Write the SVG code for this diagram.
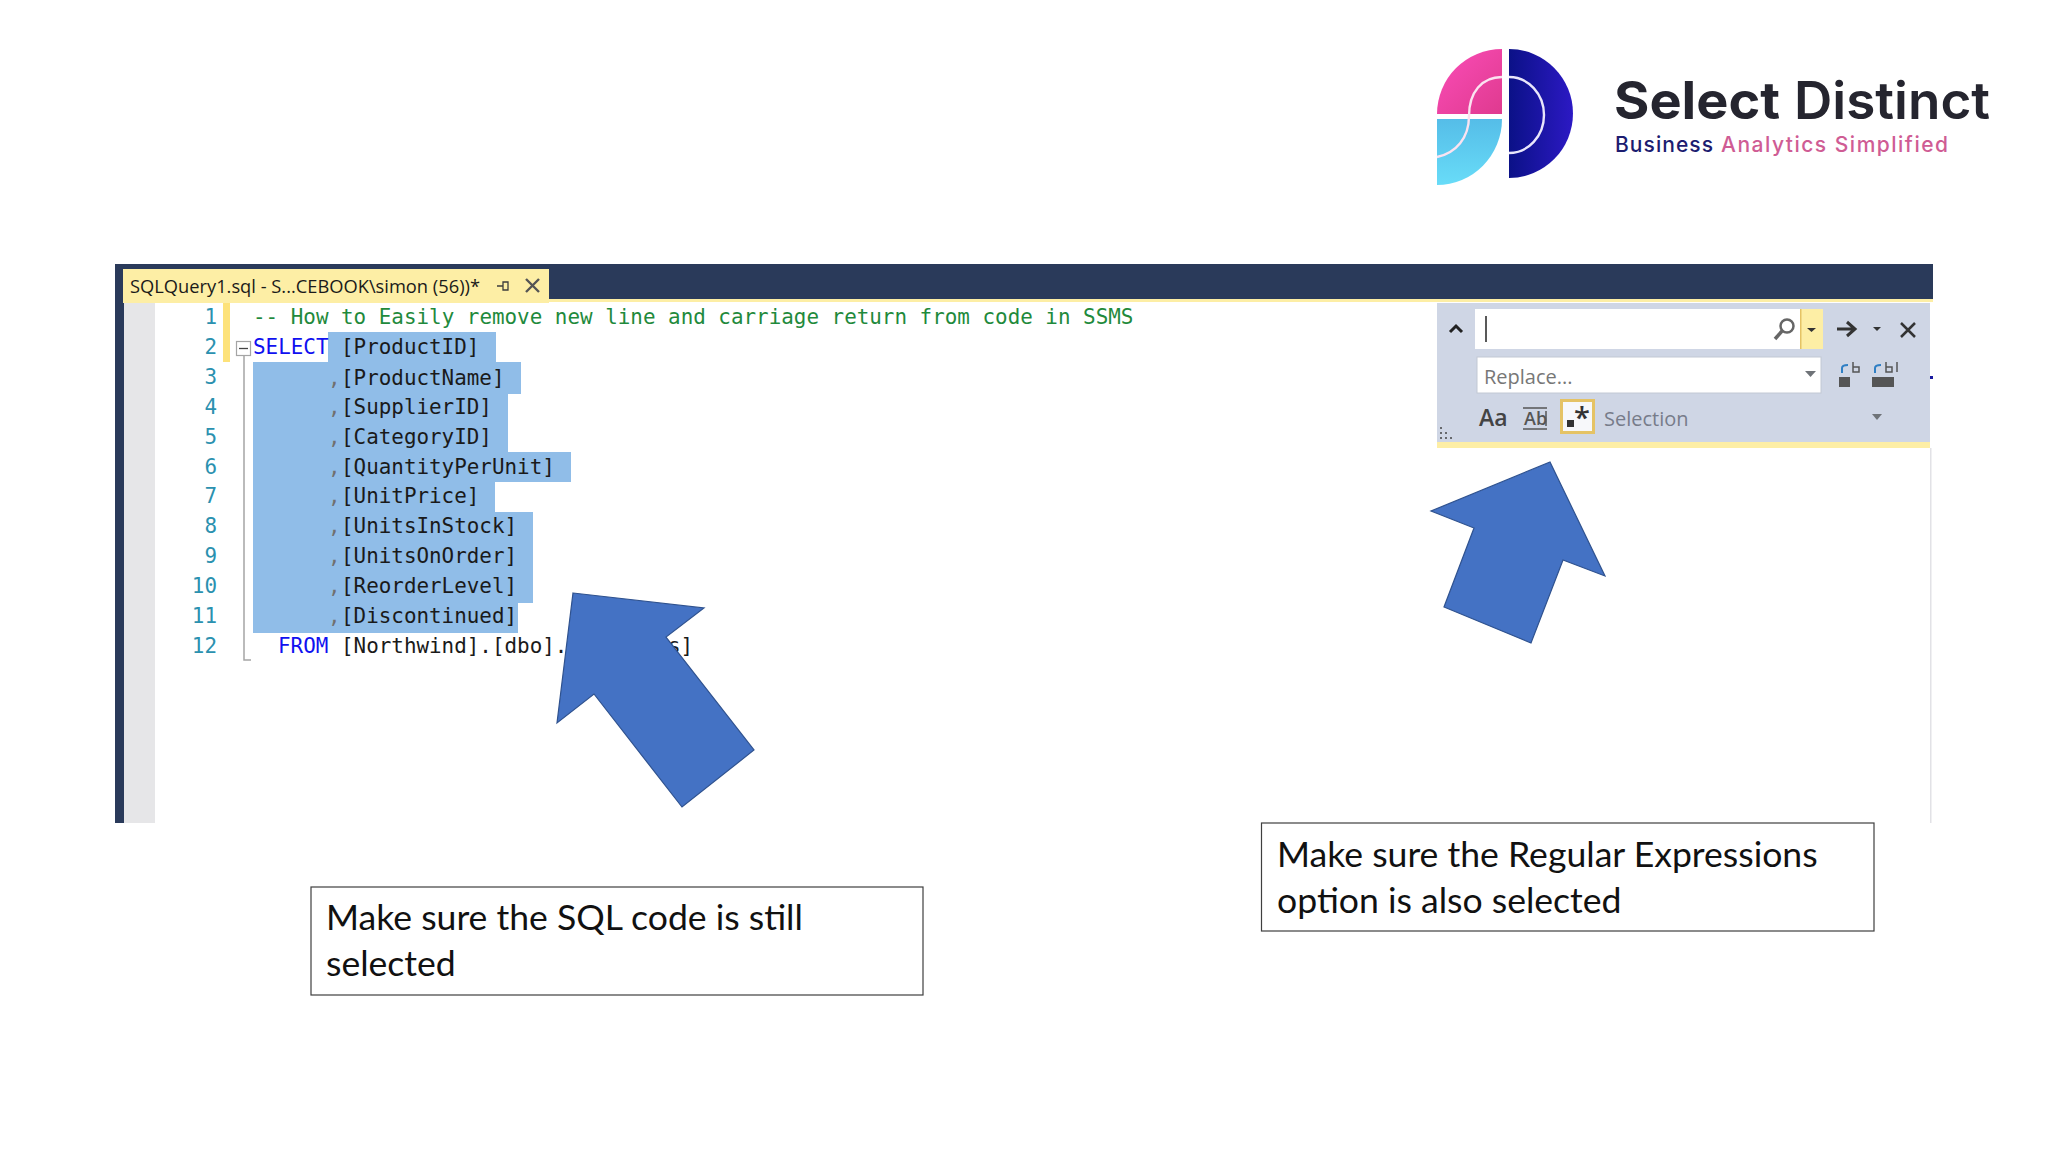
<svg xmlns="http://www.w3.org/2000/svg" width="2048" height="1152" viewBox="0 0 2048 1152">
<defs>
<linearGradient id="gp" x1="0" y1="0" x2="1" y2="1"><stop offset="0" stop-color="#fb4db8"/><stop offset="1" stop-color="#df3a8f"/></linearGradient>
<linearGradient id="gb" x1="0" y1="0" x2="0" y2="1"><stop offset="0" stop-color="#55bde8"/><stop offset="1" stop-color="#68dcf8"/></linearGradient>
<linearGradient id="gd" x1="0" y1="0" x2="1" y2="0"><stop offset="0" stop-color="#0b1187"/><stop offset="1" stop-color="#2c19c4"/></linearGradient>
</defs>
<style>
.code{font-family:"DejaVu Sans Mono","Liberation Mono",monospace;font-size:20.9px;fill:#1a1a1a}
.ln{font-family:"DejaVu Sans Mono","Liberation Mono",monospace;font-size:20.9px;fill:#2b91af;text-anchor:end}
.cm{fill:#1f8a3c}.kw{fill:#1010f0}.gr{fill:#707070}
.sel{fill:#90bde8}
.arrow{fill:#4472c4;stroke:#2f528f;stroke-width:1.2}
.box{fill:#fff;stroke:#3f3f3f;stroke-width:1.2}
.note{font-family:Lato,"Open Sans",sans-serif;font-size:35.6px;fill:#111}
.ui{font-family:"Open Sans","Liberation Sans",sans-serif}
.tri{fill:#6f7378}
</style>
<rect width="2048" height="1152" fill="#fff"/>

<g id="logo">
<path d="M1437 114 A65 65 0 0 1 1502 49 V114 Z" fill="url(#gp)"/>
<path d="M1437 119 H1502 A65 66 0 0 1 1437 185 Z" fill="url(#gb)"/>
<path d="M1509 49 A64 64.500 0 0 1 1509 178 Z" fill="url(#gd)"/>
<path d="M1509 77 A35 38 0 0 1 1509 153" fill="none" stroke="#e9e6fb" stroke-width="2.400"/>
<path d="M1502 77 C1482 77 1469 92 1469 116 C1469 138 1456 153 1437 157" fill="none" stroke="#fbe3f1" stroke-width="2.400"/>
<text x="1614" y="119" font-family="Inter,sans-serif" font-size="52" font-weight="700" fill="#25252f" textLength="166" lengthAdjust="spacingAndGlyphs">Select</text>
<text x="1794" y="119" font-family="Inter,sans-serif" font-size="52" font-weight="600" fill="#25252f" textLength="196" lengthAdjust="spacingAndGlyphs">Distinct</text>
<text x="1615" y="152" font-family="Inter,sans-serif" font-size="21" font-weight="500" fill="#1c1c70" textLength="98">Business</text>
<text x="1721" y="152" font-family="Inter,sans-serif" font-size="21" font-weight="500" fill="#cf5c94" textLength="227">Analytics Simplified</text>
</g>

<g id="ssms-window">
<rect x="115" y="264" width="1818" height="36" fill="#2a3a5a"/>
<rect x="115" y="299" width="1818" height="3" fill="#fdeea5"/>
<rect x="115" y="264" width="9" height="559" fill="#2a3a5a"/>
<rect x="124" y="302" width="31" height="521" fill="#e6e6e8"/>
<rect x="1930" y="448" width="1.500" height="375" fill="#e2e2e6"/>
</g>

<g id="tab">
<rect x="123" y="269" width="426" height="34" fill="#fdeea5"/>
<text class="ui" x="130" y="293" font-size="19" fill="#1a1a1a" textLength="350" lengthAdjust="spacingAndGlyphs">SQLQuery1.sql - S...CEBOOK\simon (56))*</text>
<path d="M497 286 H503 M503 282 V290 H508 V282 Z" fill="none" stroke="#3d3d3d" stroke-width="1.300"/>
<path d="M526 279 L539 292 M539 279 L526 292" stroke="#555" stroke-width="2.400"/>
</g>

<g id="code-editor">
<rect x="223" y="303" width="7" height="59" fill="#fde27a"/>
<g id="selection">
<rect class="sel" x="328" y="332" width="168" height="30"/>
<rect class="sel" x="253" y="362" width="268" height="32"/>
<rect class="sel" x="253" y="394" width="255" height="58"/>
<rect class="sel" x="253" y="452" width="318" height="30"/>
<rect class="sel" x="253" y="482" width="242" height="30"/>
<rect class="sel" x="253" y="512" width="280" height="91"/>
<rect class="sel" x="253" y="603" width="265" height="30"/>
</g>
<path d="M244 355 V660 H251" fill="none" stroke="#a5a5a5" stroke-width="1.500"/>
<rect x="236.500" y="341.500" width="14" height="14" fill="#fff" stroke="#a5a5a5" stroke-width="1.200"/>
<path d="M239 348.500 H248" stroke="#444" stroke-width="1.300"/>
<text class="ln" x="217" y="324">1</text>
<text class="ln" x="217" y="354">2</text>
<text class="ln" x="217" y="384">3</text>
<text class="ln" x="217" y="414">4</text>
<text class="ln" x="217" y="444">5</text>
<text class="ln" x="217" y="474">6</text>
<text class="ln" x="217" y="503">7</text>
<text class="ln" x="217" y="533">8</text>
<text class="ln" x="217" y="563">9</text>
<text class="ln" x="217" y="593">10</text>
<text class="ln" x="217" y="623">11</text>
<text class="ln" x="217" y="653">12</text>
<text class="code cm" x="253" y="324">-- How to Easily remove new line and carriage return from code in SSMS</text>
<text class="code kw" x="253" y="354">SELECT</text>
<text class="code" x="341" y="354">[ProductID]</text>
<text class="code gr" x="328" y="385">,</text><text class="code" x="341" y="385">[ProductName]</text>
<text class="code gr" x="328" y="414">,</text><text class="code" x="341" y="414">[SupplierID]</text>
<text class="code gr" x="328" y="444">,</text><text class="code" x="341" y="444">[CategoryID]</text>
<text class="code gr" x="328" y="474">,</text><text class="code" x="341" y="474">[QuantityPerUnit]</text>
<text class="code gr" x="328" y="503">,</text><text class="code" x="341" y="503">[UnitPrice]</text>
<text class="code gr" x="328" y="533">,</text><text class="code" x="341" y="533">[UnitsInStock]</text>
<text class="code gr" x="328" y="563">,</text><text class="code" x="341" y="563">[UnitsOnOrder]</text>
<text class="code gr" x="328" y="593">,</text><text class="code" x="341" y="593">[ReorderLevel]</text>
<text class="code gr" x="328" y="623">,</text><text class="code" x="341" y="623">[Discontinued]</text>
<text class="code kw" x="278" y="653">FROM</text>
<text class="code" x="341" y="653">[Northwind].[dbo].</text>
<text class="code" x="668" y="653">s]</text>
</g>

<g id="find-replace-panel">
<rect x="1437" y="303" width="493" height="139" fill="#cfd6e5"/>
<rect x="1437" y="442" width="493" height="6" fill="#fdeea5"/>
<rect x="1475" y="309" width="325" height="40" fill="#fff"/>
<rect x="1800" y="309" width="23" height="40" fill="#fdeea5"/>
<rect x="1800" y="309" width="1.500" height="40" fill="#e5c365"/>
<path d="M1450 332 L1456 326 L1462 332" fill="none" stroke="#222" stroke-width="3"/>
<path d="M1486 316 V342" stroke="#222" stroke-width="1.500"/>
<circle cx="1787" cy="326" r="6.500" fill="none" stroke="#666" stroke-width="2.500"/>
<path d="M1782 331 L1775 339" stroke="#666" stroke-width="3.500"/>
<path d="M1807 328 H1816 L1811.500 332 Z" fill="#333"/>
<path d="M1837 329 H1854 M1847 322 L1855 329 L1847 336" fill="none" stroke="#333" stroke-width="3"/>
<path d="M1873 327 H1881 L1877 331 Z" fill="#333"/>
<path d="M1901 323 L1915 337 M1915 323 L1901 337" stroke="#333" stroke-width="2.500"/>
<rect x="1477" y="357" width="344" height="36" fill="#fff" stroke="#c2c8d4"/>
<text class="ui" x="1484" y="384" font-size="20" fill="#777">Replace...</text>
<path class="tri" d="M1805 371 H1816 L1810.500 377 Z"/>
<path d="M1842 373 V368 Q1842 365 1848 365" fill="none" stroke="#2f7fc4" stroke-width="2"/>
<rect x="1839" y="377" width="11" height="10" fill="#555"/>
<path d="M1853 362 V372 H1859 V367 H1853" fill="none" stroke="#555" stroke-width="1.500"/>
<path d="M1875 373 V368 Q1875 365 1881 365" fill="none" stroke="#2f7fc4" stroke-width="2"/>
<rect x="1872" y="377" width="22" height="10" fill="#555"/>
<path d="M1886 362 V372 H1892 V367 H1886 M1897 362 V372" fill="none" stroke="#555" stroke-width="1.500"/>
<text class="ui" x="1479" y="426" font-size="23" font-weight="600" fill="#444">Aa</text>
<path d="M1523 408 H1547 M1523 429 H1547" stroke="#555" stroke-width="1.500"/>
<text class="ui" x="1524" y="425" font-size="18" font-weight="600" fill="#555">Ab</text>
<path d="M1546 411 V426" stroke="#555" stroke-width="1.500"/>
<rect x="1561.500" y="400.500" width="32" height="32" fill="#f7f8fa" stroke="#e5c365" stroke-width="3"/>
<rect x="1567" y="420" width="7" height="7" fill="#333"/>
<text class="ui" x="1574" y="428" font-size="29" font-weight="600" fill="#333">*</text>
<text class="ui" x="1604" y="426" font-size="20" fill="#777c8a">Selection</text>
<path class="tri" d="M1872 414 H1882 L1877 420 Z"/>
<path d="M1441 427 v2 M1441 432 v2 M1441 437 v2 M1446 432 v2 M1446 437 v2 M1451 437 v2" stroke="#444" stroke-width="1.500"/>
<rect x="1930" y="376" width="3" height="3" fill="#1a1aa0"/>
</g>

<g id="connectors">
<polygon class="arrow" points="573,593 704,608 666,637 754,750 682,807 594,694 557,723"/>
<polygon class="arrow" points="1550,462 1605,576 1563,560 1531,643 1444,607 1474,528 1431,511"/>
</g>

<g id="note-sql">
<rect class="box" x="311" y="887" width="612" height="108"/>
<text class="note" x="326" y="930">Make sure the SQL code is still</text>
<text class="note" x="326" y="976">selected</text>
</g>
<g id="note-regex">
<rect class="box" x="1261.500" y="823" width="612.500" height="108"/>
<text class="note" x="1277" y="867">Make sure the Regular Expressions</text>
<text class="note" x="1277" y="913">option is also selected</text>
</g>
</svg>
